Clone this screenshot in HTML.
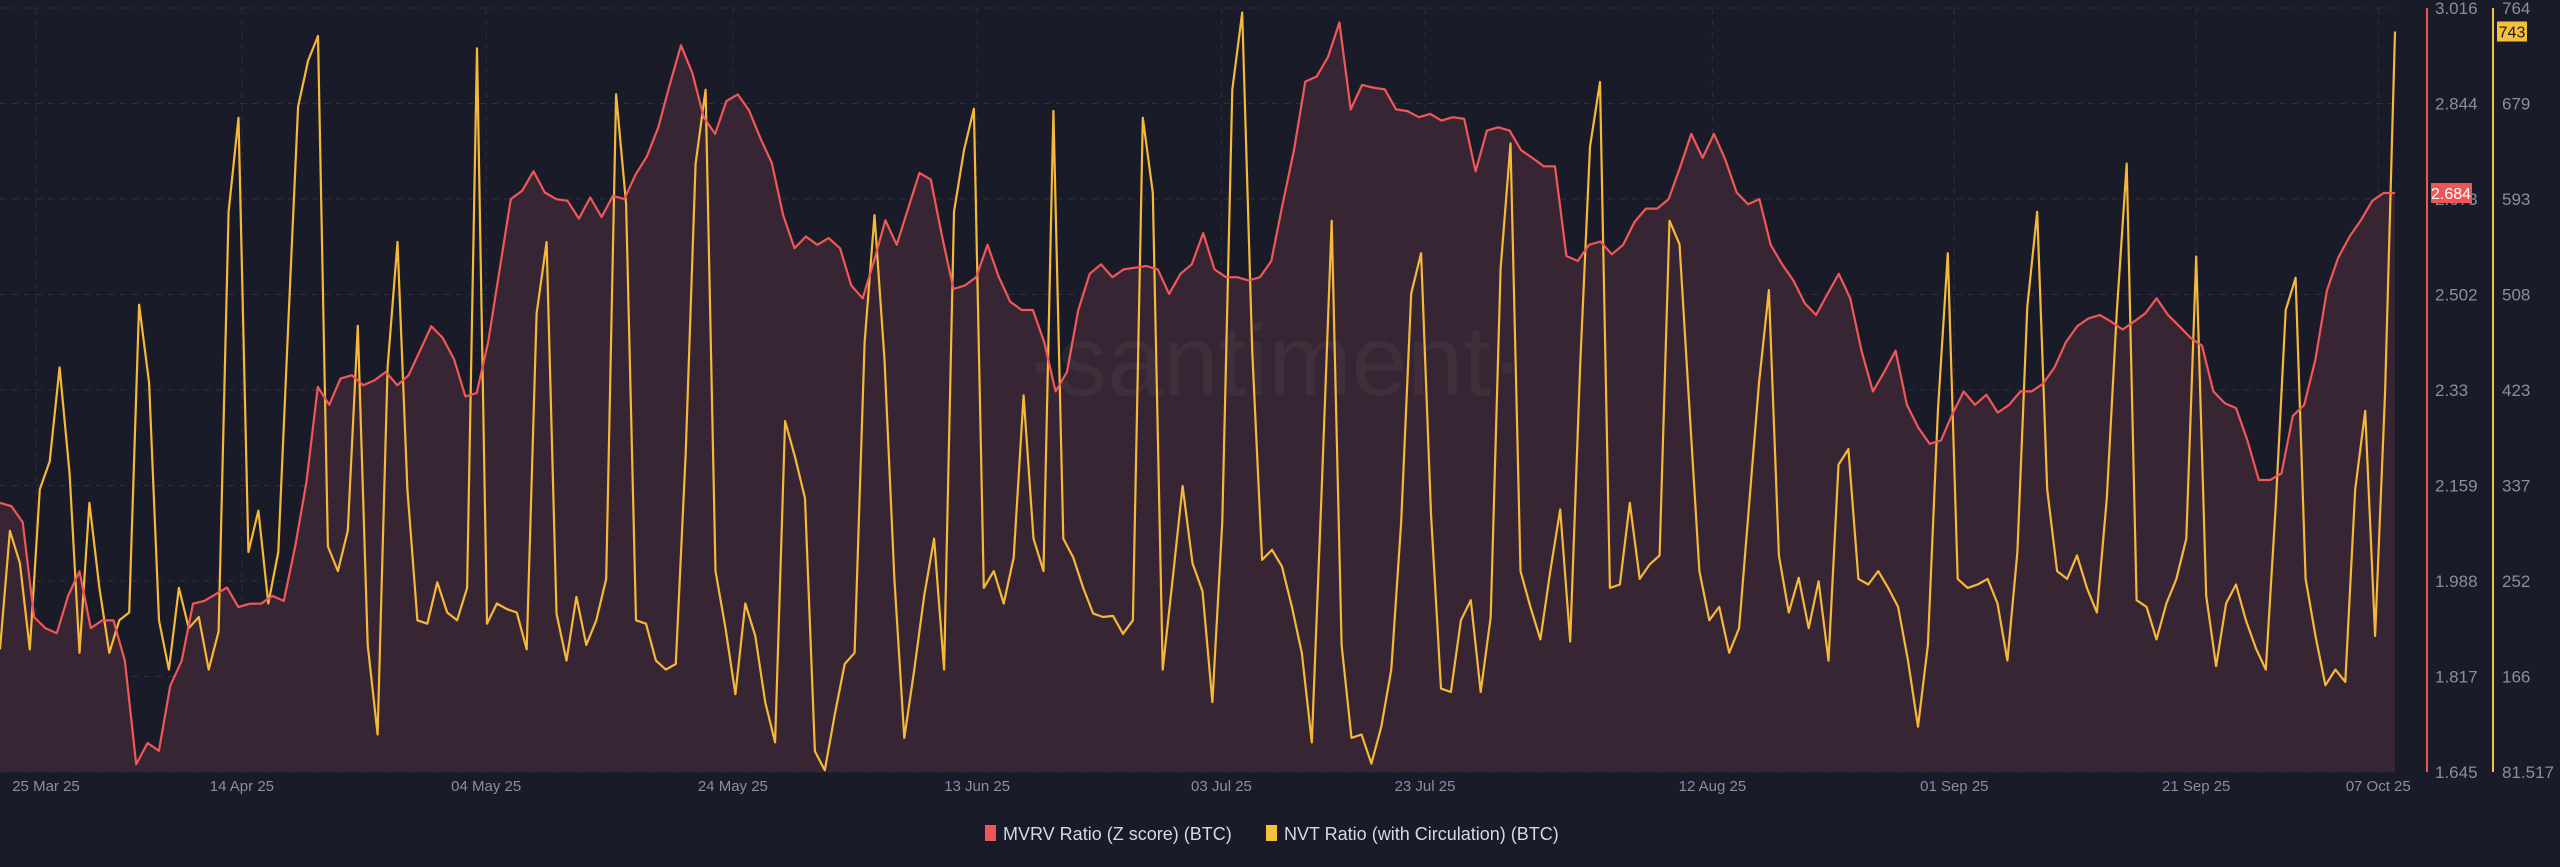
<!DOCTYPE html>
<html><head><meta charset="utf-8"><style>
html,body{margin:0;padding:0;background:#1a1b29;width:2560px;height:867px;overflow:hidden;font-family:"Liberation Sans",sans-serif}
</style></head><body>
<svg id="chart" width="2560" height="867" xmlns="http://www.w3.org/2000/svg">
<rect x="0" y="0" width="2560" height="867" fill="#1a1b29"/>
<g id="grid"></g>
<g id="series"></g>
<text x="1274" y="395" font-size="100" fill="#ffffff" fill-opacity="0.045" text-anchor="middle">·santiment·</text>
<g id="axes"></g>
<g>
<g><rect x="985" y="825" width="11" height="16" fill="#f05555"/><text x="1003" y="840" font-size="18" fill="#d6d8e2">MVRV Ratio (Z score) (BTC)</text></g>
<g><rect x="1266" y="825" width="11" height="16" fill="#f5c13c"/><text x="1284" y="840" font-size="18" fill="#d6d8e2">NVT Ratio (with Circulation) (BTC)</text></g>
</g>
</svg>
<script>
const mvrvValues=[2.128,2.122,2.093,1.923,1.903,1.894,1.961,2.005,1.903,1.917,1.917,1.844,1.659,1.697,1.683,1.800,1.844,1.947,1.952,1.964,1.976,1.941,1.947,1.947,1.961,1.952,2.049,2.166,2.336,2.304,2.351,2.357,2.339,2.348,2.363,2.339,2.357,2.401,2.445,2.424,2.386,2.319,2.325,2.416,2.544,2.673,2.688,2.723,2.685,2.673,2.670,2.638,2.676,2.641,2.679,2.673,2.717,2.750,2.802,2.878,2.949,2.899,2.820,2.790,2.849,2.861,2.832,2.782,2.738,2.644,2.585,2.606,2.591,2.603,2.585,2.518,2.495,2.562,2.635,2.591,2.656,2.720,2.708,2.606,2.512,2.518,2.533,2.591,2.533,2.489,2.474,2.474,2.416,2.328,2.363,2.474,2.539,2.556,2.533,2.547,2.550,2.553,2.547,2.503,2.539,2.556,2.612,2.547,2.533,2.533,2.527,2.533,2.562,2.664,2.761,2.884,2.893,2.928,2.990,2.834,2.878,2.873,2.870,2.834,2.831,2.820,2.826,2.814,2.820,2.817,2.723,2.796,2.802,2.796,2.761,2.747,2.732,2.732,2.571,2.562,2.591,2.597,2.574,2.591,2.632,2.656,2.656,2.673,2.729,2.790,2.747,2.790,2.744,2.685,2.664,2.673,2.591,2.556,2.527,2.486,2.465,2.503,2.539,2.495,2.401,2.328,2.363,2.401,2.304,2.263,2.234,2.240,2.287,2.328,2.304,2.322,2.290,2.304,2.328,2.328,2.342,2.371,2.416,2.445,2.459,2.465,2.453,2.439,2.453,2.468,2.495,2.465,2.445,2.424,2.410,2.328,2.307,2.298,2.240,2.169,2.169,2.181,2.284,2.304,2.386,2.509,2.568,2.606,2.635,2.670,2.684,2.684];
const nvtValues=[191,297,268,191,334,359,443,348,188,322,246,188,217,224,499,429,217,173,246,210,220,173,207,582,666,278,315,232,278,480,676,717,739,283,261,297,480,195,115,443,555,334,217,214,251,224,217,246,728,214,232,227,224,191,491,555,223,181,238,195,217,254,687,589,217,214,181,173,178,366,625,691,261,210,151,232,203,144,108,395,363,326,100,83,133,178,188,465,579,450,254,112,173,239,290,173,582,637,674,246,261,232,273,418,290,261,672,290,273,246,223,220,221,205,217,666,599,173,254,337,268,243,144,305,691,760,458,271,280,265,229,188,108,334,574,195,112,115,89,122,173,305,509,545,312,156,153,217,235,153,220,531,643,261,229,200,261,316,198,443,640,698,246,249,322,254,267,275,574,553,407,261,217,229,188,210,319,429,512,275,224,255,210,252,181,356,370,254,249,261,246,229,181,122,195,404,545,254,246,249,254,232,181,278,497,582,334,261,254,275,246,224,326,491,625,235,229,200,232,254,290,542,239,176,232,249,217,192,173,319,494,523,254,203,159,173,162,334,404,203,421,743];
const dateLabels=["25 Mar 25","14 Apr 25","04 May 25","24 May 25","13 Jun 25","03 Jul 25","23 Jul 25","12 Aug 25","01 Sep 25","21 Sep 25","07 Oct 25"];
const dateFractions=[0.015,0.101,0.203,0.306,0.408,0.510,0.595,0.715,0.816,0.917,0.993];
const mvrvTicks=["3.016","2.844","2.673","2.502","2.33","2.159","1.988","1.817","1.645"];
const nvtTicks=["764","679","593","508","423","337","252","166","81.517"];
const PL=0,PR=2395,PT=8,PB=772;
const mMin=1.645,mMax=3.016,nMin=81.517,nMax=764;
const ym=v=>PB-(v-mMin)/(mMax-mMin)*(PB-PT);
const yn=v=>PB-(v-nMin)/(nMax-nMin)*(PB-PT);
const xi=(i,n)=>PL+i*(PR-PL)/(n-1);
const NS="http://www.w3.org/2000/svg";
function mk(tag,attrs,parent){const e=document.createElementNS(NS,tag);for(const k in attrs)e.setAttribute(k,attrs[k]);parent.appendChild(e);return e;}
const grid=document.getElementById('grid'),ser=document.getElementById('series'),ax=document.getElementById('axes');
// area fill
let d=`M${PL},${PB}`;mvrvValues.forEach((v,i)=>d+=`L${xi(i,mvrvValues.length).toFixed(1)},${ym(v).toFixed(1)}`);d+=`L${PR},${PB}Z`;
const area=mk('path',{d:d,fill:'#382533'},ser);


// grid lines
mvrvTicks.forEach((t,i)=>{const y=PT+i*(PB-PT)/(mvrvTicks.length-1);
 const g=mk('line',{x1:PL,x2:PR,y1:y,y2:y,stroke:'#4a3a50','stroke-opacity':0.6,'stroke-dasharray':'6 6','stroke-width':1},grid);
 
 
 const tx=mk('text',{x:2435,y:y+6,'font-size':17,fill:'#8a8ea3'},ax);tx.textContent=t;
 
 
});
nvtTicks.forEach((t,i)=>{const y=PT+i*(PB-PT)/(nvtTicks.length-1);
 const tx=mk('text',{x:2502,y:y+6,'font-size':17,fill:'#8a8ea3'},ax);tx.textContent=t;
 
 
});
dateLabels.forEach((t,i)=>{const x=PL+dateFractions[i]*(PR-PL);
 const g=mk('line',{x1:x,x2:x,y1:PT,y2:PB,stroke:'#4a3a50','stroke-opacity':0.5,'stroke-dasharray':'6 6'},grid);
 
 
 const tx=mk('text',{x:i==0?Math.max(x,46):x,y:791,'font-size':15,fill:'#8a8ea3','text-anchor':'middle'},ax);tx.textContent=t;
 
 
});
// lines
let dn='';nvtValues.forEach((v,i)=>dn+=(i?'L':'M')+xi(i,nvtValues.length).toFixed(1)+','+yn(v).toFixed(1));
const ln=mk('path',{d:dn,fill:'none',stroke:'#f5b83a','stroke-width':2.2,'stroke-linejoin':'round'},ser);


let dm='';mvrvValues.forEach((v,i)=>dm+=(i?'L':'M')+xi(i,mvrvValues.length).toFixed(1)+','+ym(v).toFixed(1));
const lm=mk('path',{d:dm,fill:'none',stroke:'#f05858','stroke-width':2.2,'stroke-linejoin':'round'},ser);


// axis lines
const a1=mk('line',{x1:2427,x2:2427,y1:PT,y2:PB,stroke:'#f05555','stroke-width':2},ax);


const a2=mk('line',{x1:2493,x2:2493,y1:PT,y2:PB,stroke:'#f5c13c','stroke-width':2},ax);


// badges
const lastM=mvrvValues[mvrvValues.length-1],lastN=nvtValues[nvtValues.length-1];
const b1=mk('rect',{x:2431,y:ym(lastM)-10,width:41,height:20,fill:'#f05555'},ax);


const bt1=mk('text',{x:2451,y:ym(lastM)+6,'font-size':16,fill:'#fff','text-anchor':'middle'},ax);bt1.textContent=lastM.toFixed(3);


const b2=mk('rect',{x:2497,y:yn(lastN)-10,width:30,height:20,fill:'#f5c13c'},ax);


const bt2=mk('text',{x:2512,y:yn(lastN)+6,'font-size':16,fill:'#1a1b29','text-anchor':'middle'},ax);bt2.textContent=String(lastN);


</script>
</body></html>
